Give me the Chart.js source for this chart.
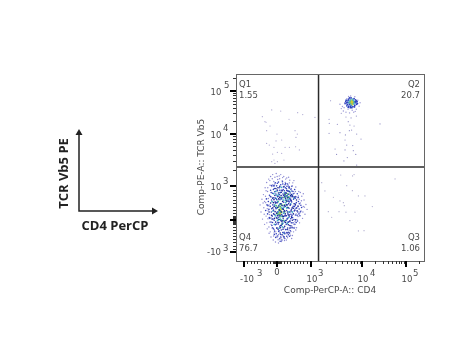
<!DOCTYPE html>
<html>
<head>
<meta charset="utf-8">
<style>
  html, body { margin: 0; padding: 0; background: #fff; }
  canvas { display: block; }
</style>
<script src="https://cdn.jsdelivr.net/npm/chart.js@4/dist/chart.umd.min.js"></script>
</head>
<body>
<canvas id="chart" width="474" height="355"></canvas>
<script>
// values are display channels 0-1000 of the biexponential axes
const xAxisMajor = [43, 218, 399, 670, 902];
const yAxisMajor = [48, 219, 401, 679, 909];
const xAxisMinor = [61, 78, 96, 113, 131, 148, 166, 183, 198, 204, 209, 214, 222, 227, 232, 238, 253, 271, 288, 306, 323, 341, 358, 376, 481, 528, 562, 588, 610, 628, 644, 658, 740, 781, 810, 832, 851, 866, 879, 891, 972];
const yAxisMinor = [65, 82, 99, 116, 133, 150, 167, 184, 199, 205, 210, 215, 223, 228, 233, 239, 255, 273, 291, 309, 327, 345, 363, 381, 485, 534, 568, 595, 617, 636, 652, 666, 748, 789, 817, 840, 858, 873, 887, 898, 978];
const gateX = [439, 439];
const gateY = [503, 503];
const quadrants = ['Q1', 'Q2', 'Q3', 'Q4'];
const percents = ['1.55', '20.7', '1.06', '76.7'];

const sparseQ1 = [[190,808],[238,802],[328,793],[355,783],[140,772],[154,745],[160,742],[282,758],[420,768],[181,722],[163,697],[314,697],[326,679],[218,679],[319,661],[243,647],[213,642],[163,629],[177,620],[202,608],[261,608],[284,608],[317,611],[337,594],[220,581],[195,572],[243,576],[202,540],[220,531],[255,540],[190,531],[207,522]];
const sparseQ2 = [[503,857],[495,758],[496,736],[539,731],[495,683],[553,686],[597,745],[606,727],[628,722],[615,700],[603,697],[642,679],[582,674],[665,652],[580,647],[589,620],[621,617],[527,599],[580,594],[624,590],[535,570],[637,570],[592,553],[574,535],[642,513],[766,733],[585,770],[612,765],[560,790],[640,775]];
const sparseQ3 = [[557,460],[620,455],[628,462],[846,439],[456,419],[589,403],[619,376],[473,375],[518,341],[651,348],[686,348],[553,321],[571,312],[576,296],[725,291],[491,264],[548,264],[585,261],[633,261],[509,234],[606,216],[651,161],[681,162]];

const q2Outer = [[553,838],[560,815],[571,802],[578,846],[585,796],[590,868],[596,812],[604,792],[610,882],[618,806],[626,796],[632,878],[640,812],[648,860],[655,828],[660,846],[566,826],[634,800],[599,880],[575,820]];
const q2Blue = [[580,842],[586,860],[590,830],[594,850],[597,822],[600,866],[603,838],[604,872],[608,820],[612,872],[628,868],[632,832],[636,862],[638,846],[641,838],[644,852],[622,826],[610,828],[588,846],[634,852],[584,852],[592,838],[596,860],[640,856],[646,842],[630,824],[616,820],[600,828]];
const q2Cyan = [[598,846],[602,856],[606,838],[610,862],[626,858],[628,840],[632,848],[614,832],[620,866]];
const q2Green = [[604,848],[608,854],[610,842],[626,850],[624,842],[622,860]];
const q2Yellow = [[612,848],[616,844],[620,852],[614,856],[618,840],[622,848],[610,850]];
const q2Orange = [[616,850],[618,846],[614,848]];

const cloudOuter = [[128,300],[133,262],[138,330],[141,224],[146,355],[148,285],[152,196],[155,392],[158,312],[160,240],[163,420],[166,172],[168,372],[171,268],[174,438],[176,148],[178,208],[181,405],[184,452],[186,128],[189,342],[192,176],[195,462],[198,112],[201,425],[203,150],[207,448],[210,102],[214,468],[218,126],[222,436],[226,96],[230,455],[234,118],[238,462],[242,104],[246,430],[250,136],[254,452],[258,110],[262,420],[266,148],[270,444],[274,124],[278,405],[282,166],[286,432],[290,138],[294,388],[298,186],[302,418],[306,156],[310,362],[314,210],[318,396],[322,178],[326,338],[330,238],[334,372],[338,204],[342,310],[346,268],[350,346],[354,228],[358,292],[362,326],[367,250],[372,302],[378,276],[152,318],[170,226],[160,376],[182,156],[176,300],[342,366],[330,296],[320,252],[308,430],[296,120],[280,448],[214,132],[196,408],[172,334],[186,232],[190,398],[204,168],[358,360],[336,330],[312,180],[268,112],[144,310],[150,250],[157,346],[164,204],[169,392],[175,182],[180,430],[187,196],[193,440],[200,134],[206,412],[212,156],[219,452],[224,114],[232,440],[240,124],[248,446],[256,122],[264,438],[272,146],[284,418],[292,158],[300,402],[308,196],[316,372],[324,222],[332,348],[340,258],[348,322],[356,262],[364,288],[318,166],[300,136],[226,142],[166,280],[178,248]];
const cloudBlue = [[165,300],[168,252],[172,318],[175,276],[178,352],[180,228],[182,292],[184,378],[186,208],[188,262],[189,326],[191,190],[193,240],[194,362],[196,300],[198,402],[199,172],[200,272],[201,338],[203,218],[204,388],[205,160],[206,248],[208,316],[209,418],[210,194],[211,286],[212,358],[214,146],[215,232],[216,402],[217,328],[218,176],[220,262],[221,376],[222,134],[223,206],[224,346],[226,422],[227,158],[228,296],[229,244],[230,392],[232,120],[233,186],[234,328],[235,268],[236,366],[237,142],[238,408],[239,216],[240,306],[241,166],[242,378],[243,248],[244,112],[245,340],[246,198],[247,424],[248,280],[249,152],[250,358],[251,228],[252,396],[253,130],[254,314],[255,178],[256,264],[257,376],[258,210],[259,344],[260,146],[261,408],[262,292],[263,242],[264,168],[265,366],[266,326],[267,196],[268,388],[269,270],[270,132],[271,224],[272,348],[273,300],[274,412],[275,176],[276,252],[277,376],[278,154],[279,320],[280,208],[281,356],[282,282],[283,236],[284,396],[285,190],[286,332],[287,262],[288,364],[289,162],[290,302],[291,226],[292,384],[293,344],[294,204],[295,276],[296,316],[297,374],[298,244],[300,350],[302,178],[304,292],[306,330],[308,222],[310,268],[312,382],[314,306],[316,246],[318,344],[320,206],[323,284],[326,360],[329,262],[332,318],[336,278],[340,242],[345,298],[190,280],[197,224],[206,370],[213,280],[219,312],[225,198],[231,356],[241,190],[255,350],[262,392],[274,226],[283,316],[292,250],[303,372],[313,196],[158,270],[162,332],[170,296],[177,232],[183,344],[188,404],[194,206],[199,382],[204,142],[209,336],[215,198],[220,416],[225,234],[229,162],[233,378],[238,128],[243,332],[247,216],[251,382],[256,154],[260,242],[264,414],[269,152],[273,374],[277,208],[281,396],[285,132],[289,322],[293,178],[297,400],[301,232],[305,360],[309,176],[315,336],[319,282],[325,244],[331,340],[337,306],[343,264],[349,286],[187,366],[195,178],[203,402],[211,126],[221,344],[235,106],[249,412],[259,120],[271,400],[279,140],[287,214],[295,238],[303,204],[311,292],[321,312],[327,214],[335,252]];
const cloudNavy = [[176,262],[184,310],[192,224],[195,336],[200,252],[203,292],[207,350],[211,208],[213,312],[216,256],[219,380],[222,286],[224,170],[227,332],[229,222],[231,272],[233,400],[235,150],[237,306],[238,190],[240,350],[242,262],[244,210],[246,376],[248,318],[250,170],[252,276],[254,238],[255,398],[257,296],[259,186],[260,358],[262,252],[264,336],[266,216],[268,300],[270,378],[272,168],[274,262],[276,338],[278,194],[280,306],[282,372],[284,246],[286,212],[288,298],[290,350],[292,188],[294,322],[296,232],[299,284],[302,344],[305,252],[309,306],[313,272],[317,220],[322,326],[330,292],[218,228],[226,364],[234,244],[245,140],[256,128],[268,242],[277,286],[285,150],[293,268],[205,228],[199,312],[189,244],[196,284],[202,328],[208,264],[212,388],[217,176],[223,392],[228,206],[232,340],[236,178],[241,368],[245,296],[249,240],[253,352],[258,268],[263,206],[267,362],[271,320],[275,150],[279,246],[283,390],[287,176],[291,330],[295,356],[300,218],[306,282],[311,342],[316,300],[325,268],[210,310],[221,242]];
const cloudCyan = [[192,318],[197,268],[201,360],[206,300],[210,242],[214,334],[218,284],[221,216],[225,262],[228,354],[232,304],[236,224],[239,336],[243,284],[247,182],[251,326],[253,256],[258,366],[261,216],[265,312],[269,348],[273,202],[277,330],[282,262],[286,372],[291,306],[296,354],[300,262],[212,372],[230,176],[256,148],[241,394],[308,336],[204,196],[278,232],[218,352],[226,222],[234,366],[249,202],[262,326],[270,284],[285,338],[222,318],[240,240],[255,288]];
const cloudGreen = [[214,296],[220,252],[224,318],[229,274],[233,236],[236,340],[239,262],[242,302],[246,238],[249,278],[252,216],[255,340],[259,264],[263,348],[268,322],[272,286],[276,358],[281,342],[226,290],[244,196],[235,292],[258,300],[228,250],[240,218],[262,356],[274,340]];
const cloudYellow = [[232,270],[236,282],[240,274],[237,252],[243,262],[229,260],[234,258]];

const seriesList = [
  { pts: sparseQ1, color: '#a9a3cf', r: 0.6 },
  { pts: sparseQ2, color: '#8f8cc4', r: 0.6 },
  { pts: sparseQ3, color: '#aaa6cc', r: 0.6 },
  { pts: cloudOuter, color: '#8a88d2', r: 0.7 },
  { pts: cloudBlue, color: '#3443bd', r: 0.8 },
  { pts: cloudNavy, color: '#17238f', r: 0.8 },
  { pts: cloudCyan, color: '#3fb0c8', r: 0.9 },
  { pts: cloudGreen, color: '#55b878', r: 1 },
  { pts: cloudYellow, color: '#bcd050', r: 1 },
  { pts: q2Outer, color: '#9a97d6', r: 0.7 },
  { pts: q2Blue, color: '#2a3fbd', r: 0.9 },
  { pts: q2Cyan, color: '#48b4d0', r: 0.9 },
  { pts: q2Green, color: '#78bd70', r: 1 },
  { pts: q2Yellow, color: '#e6c82e', r: 1.6 },
  { pts: q2Orange, color: '#e8912a', r: 1 }
];

const TEXT = '#4a4a4a';
const SANS = '"DejaVu Sans"';

function text(ctx, str, x, y, font, align, color) {
  ctx.font = font;
  ctx.textAlign = align || 'left';
  ctx.textBaseline = 'middle';
  ctx.fillStyle = color || TEXT;
  ctx.fillText(str, x, y);
}

// decade label with the exponent raised, "10" centred on cx
function decade(ctx, base, exp, cx, cy, supX, supY) {
  text(ctx, base, cx, cy, '8.5px ' + SANS, 'center');
  text(ctx, exp, supX, supY, '8.5px ' + SANS, 'left');
}

const flowAxes = {
  id: 'flowAxes',
  afterDraw(chart) {
    const ctx = chart.ctx;
    const a = chart.chartArea;
    const sx = chart.scales.x;
    const sy = chart.scales.y;
    ctx.save();

    // frame
    ctx.strokeStyle = '#666666';
    ctx.lineWidth = 1;
    ctx.strokeRect(a.left + 0.5, a.top + 0.5, a.right - a.left, a.bottom - a.top);

    // ticks
    ctx.strokeStyle = '#333333';
    ctx.lineWidth = 1;
    xAxisMinor.forEach(v => {
      const p = Math.round(sx.getPixelForValue(v)) + 0.5;
      ctx.beginPath(); ctx.moveTo(p, a.bottom); ctx.lineTo(p, a.bottom + 3); ctx.stroke();
    });
    yAxisMinor.forEach(v => {
      const p = Math.round(sy.getPixelForValue(v)) + 0.5;
      ctx.beginPath(); ctx.moveTo(a.left, p); ctx.lineTo(a.left - 3, p); ctx.stroke();
    });
    ctx.strokeStyle = '#000000';
    ctx.lineWidth = 2;
    xAxisMajor.forEach(v => {
      const p = Math.round(sx.getPixelForValue(v));
      ctx.beginPath(); ctx.moveTo(p, a.bottom); ctx.lineTo(p, a.bottom + 6); ctx.stroke();
    });
    yAxisMajor.forEach(v => {
      const p = Math.round(sy.getPixelForValue(v));
      ctx.beginPath(); ctx.moveTo(a.left, p); ctx.lineTo(a.left - 6, p); ctx.stroke();
    });

    // tick labels
    decade(ctx, '-10', '3', 247, 280, 257, 274);
    text(ctx, '0', sx.getPixelForValue(218), 273, '8.5px ' + SANS, 'center');
    decade(ctx, '10', '3', 312, 280, 318, 274);
    decade(ctx, '10', '4', 363, 280, 370, 274);
    decade(ctx, '10', '5', 407, 280, 413, 274);
    decade(ctx, '10', '5', 216, 93, 224, 86);
    decade(ctx, '10', '4', 216, 136, 223, 129);
    decade(ctx, '10', '3', 216, 188, 223, 182);
    decade(ctx, '-10', '3', 214, 253, 223, 249);

    // axis titles
    text(ctx, 'Comp-PerCP-A:: CD4', 330, 291, '9px ' + SANS, 'center');
    ctx.save();
    ctx.translate(202, 167);
    ctx.rotate(-Math.PI / 2);
    text(ctx, 'Comp-PE-A:: TCR Vb5', 0, 0, '9px ' + SANS, 'center');
    ctx.restore();

    // quadrant labels
    text(ctx, quadrants[0], 239, 85, '8.5px ' + SANS);
    text(ctx, percents[0], 239, 96, '8.5px ' + SANS);
    text(ctx, quadrants[1], 420, 85, '8.5px ' + SANS, 'right');
    text(ctx, percents[1], 420, 96, '8.5px ' + SANS, 'right');
    text(ctx, quadrants[2], 420, 238, '8.5px ' + SANS, 'right');
    text(ctx, percents[2], 420, 249, '8.5px ' + SANS, 'right');
    text(ctx, quadrants[3], 239, 238, '8.5px ' + SANS);
    text(ctx, percents[3], 239, 249, '8.5px ' + SANS);

    // key on the left
    ctx.strokeStyle = '#222222';
    ctx.fillStyle = '#222222';
    ctx.lineWidth = 1.5;
    ctx.beginPath();
    ctx.moveTo(79, 133); ctx.lineTo(79, 211); ctx.lineTo(155, 211);
    ctx.stroke();
    ctx.beginPath();
    ctx.moveTo(79, 129); ctx.lineTo(75.5, 135); ctx.lineTo(82.5, 135); ctx.closePath(); ctx.fill();
    ctx.beginPath();
    ctx.moveTo(158, 211); ctx.lineTo(152, 207.5); ctx.lineTo(152, 214.5); ctx.closePath(); ctx.fill();
    text(ctx, 'CD4 PerCP', 115, 226, 'bold 13px "Open Sans"', 'center', '#222222');
    ctx.save();
    ctx.translate(64, 173.5);
    ctx.rotate(-Math.PI / 2);
    text(ctx, 'TCR Vb5 PE', 0, 0, 'bold 13px "Open Sans"', 'center', '#222222');
    ctx.restore();

    ctx.restore();
  }
};

const datasets = seriesList.map(s => ({
  type: 'scatter',
  data: s.pts.map(p => ({ x: p[0], y: p[1] })),
  backgroundColor: s.color,
  borderWidth: 0,
  pointStyle: 'circle',
  pointRadius: s.r
}));

// gate lines
datasets.push({
  type: 'line',
  data: [{ x: gateX[0], y: 0 }, { x: gateX[1], y: 1000 }],
  borderColor: '#2a2a2a', borderWidth: 1.5, pointRadius: 0
});
datasets.push({
  type: 'line',
  data: [{ x: 0, y: gateY[0] }, { x: 1000, y: gateY[1] }],
  borderColor: '#2a2a2a', borderWidth: 1.5, pointRadius: 0
});

new Chart(document.getElementById('chart').getContext('2d'), {
  data: { datasets: datasets },
  plugins: [flowAxes],
  options: {
    responsive: false,
    animation: false,
    layout: { padding: { left: 236, right: 50, top: 74, bottom: 94 } },
    plugins: { legend: { display: false }, tooltip: { enabled: false } },
    scales: {
      x: { type: 'linear', min: 0, max: 1000, display: false },
      y: { type: 'linear', min: 0, max: 1000, display: false }
    }
  }
});
</script>
</body>
</html>
